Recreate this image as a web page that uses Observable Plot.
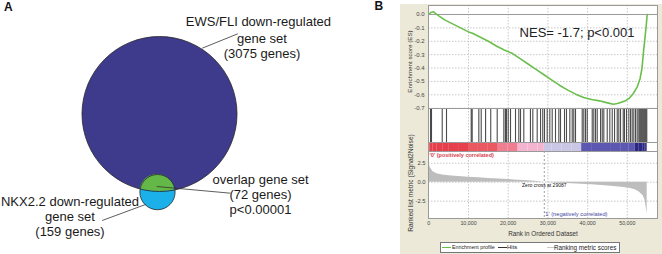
<!DOCTYPE html>
<html><head><meta charset="utf-8">
<script src="https://cdn.jsdelivr.net/npm/d3@7"></script>
<script src="https://cdn.jsdelivr.net/npm/@observablehq/plot@0.6"></script>
<style>
body{margin:0;background:#fff;}
#root{position:relative;width:662px;height:254px;overflow:hidden;font-family:"Liberation Sans",Arial,sans-serif;}
.abs{position:absolute;}
.leg span{position:absolute;white-space:nowrap;}
</style></head><body><div id="root"></div>
<script>
// ---------- data ----------
const setNames = ["EWS/FLI down-regulated", "NKX2.2 down-regulated", "overlap gene set"];
const setCounts = [3075, 159, 72];
const overlapP = "p<0.00001";
const nesLabel = "NES= -1.7; p<0.001";
const zeroCross = 29087;

const esRank = [0,500,1200,2500,4000,6000,8000,10000,11000,13000,15000,17000,19000,21000,23000,25000,27000,29000,31000,33000,35000,37000,39000,41000,43000,45000,46500,47500,48500,49500,50500,51500,52500,53200,53700,54100,54500,54800,55000];
const esValue = [0,0.015,0.02,-0.01,-0.04,-0.07,-0.10,-0.13,-0.14,-0.17,-0.20,-0.235,-0.265,-0.29,-0.33,-0.37,-0.41,-0.45,-0.49,-0.53,-0.565,-0.595,-0.62,-0.635,-0.645,-0.66,-0.67,-0.665,-0.655,-0.645,-0.625,-0.59,-0.54,-0.48,-0.40,-0.27,-0.16,-0.07,0.00];

const hitRanks = [430,680,3380,4460,10680,10930,12600,13200,14300,15600,17230,18900,19300,19560,20000,20580,21840,22670,23100,23930,25600,26200,27300,28140,28700,29140,29820,30480,31080,31910,32750,33170,34180,34680,35520,36120,36520,36950,38640,39040,39470,39900,41160,41560,41990,42420,43250,43680,44080,44940,45590,46200,46780,47460,47860,48290,48970,49290,49800,50380,50810,51230,51640,52070,52490,52900,53150,53400,53650,53900,54150,54400,54650,54900];

const metricRank = [0,300,1000,2000,3500,5000,7500,10000,12500,15000,17500,20000,22500,25000,27500,29087,31000,33500,36000,38500,41000,43500,46000,48500,50500,52000,53000,54000,54500,54800,55000];
const metricValue = [2.8,2.0,1.4,1.1,0.95,0.85,0.75,0.66,0.58,0.5,0.42,0.35,0.27,0.18,0.08,0,-0.06,-0.13,-0.2,-0.27,-0.34,-0.42,-0.52,-0.65,-0.8,-1.0,-1.3,-1.8,-2.4,-3.5,-4.2];

const rankTicks = [0,10000,20000,30000,40000,50000];
const esTicks = [0,-0.1,-0.2,-0.3,-0.4,-0.5,-0.6,-0.7];
const metricTicks = [2.5,0,-2.5];
const legendItems = ["Enrichment profile","Hits","Ranking metric scores"];

// ---------- helpers ----------
const FONT = '"Liberation Sans", Arial, sans-serif';
const root = document.getElementById("root");
function place(el, left, top, w, h){
  const d = document.createElement("div");
  d.className = "abs";
  Object.assign(d.style, {left:left+"px", top:top+"px"});
  if (w) d.style.width = w+"px";
  if (h) { d.style.height = h+"px"; d.style.overflow = "hidden"; }
  d.appendChild(el); root.appendChild(d); return d;
}
const baseStyle = {background:"transparent", overflow:"visible", fontFamily:FONT, fontSize:"6px", color:"#333"};

// ---------- Panel A ----------
const rMax = 77.5;
const rScale = d3.scaleSqrt().domain([0, setCounts[0]]).range([0, rMax]);
const R = rScale(setCounts[0]), r = rScale(setCounts[1]);
const big = {x:159, y:113.5};
const dir = [-2, 77.5], dl = Math.hypot(dir[0], dir[1]);
function lensArea(d){
  if (d >= R + r) return 0;
  if (d <= R - r) return Math.PI*r*r;
  const a1 = Math.acos((d*d + r*r - R*R)/(2*d*r));
  const a2 = Math.acos((d*d + R*R - r*r)/(2*d*R));
  return r*r*a1 + R*R*a2 - 0.5*Math.sqrt((-d+r+R)*(d+r-R)*(d-r+R)*(d+r+R));
}
const target = Math.PI*R*R*setCounts[2]/setCounts[0];
let lo = R - r, hi = R + r;
for (let i = 0; i < 60; i++){ const m = (lo+hi)/2; if (lensArea(m) > target) lo = m; else hi = m; }
const dist = (lo+hi)/2;
const small = {x: big.x + dir[0]/dl*dist, y: big.y + dir[1]/dl*dist};
const circles = [{x:big.x, y:big.y, n:setCounts[0]}, {x:small.x, y:small.y, n:setCounts[1]}];
const lensPts = [];
for (let x = small.x - r; x <= small.x + r; x += 0.2){
  const hs = Math.sqrt(Math.max(0, r*r - (x-small.x)**2));
  const hb = Math.sqrt(Math.max(0, R*R - (x-big.x)**2));
  const y1 = Math.max(small.y - hs, big.y - hb), y2 = Math.min(small.y + hs, big.y + hb);
  if (y2 > y1) lensPts.push({x, y1, y2});
}
const leaders = [
  {x1:201.7, y1:47.7, x2:237.3, y2:33.3},
  {x1:156.3, y1:186, x2:230, y2:192.7},
  {x1:145, y1:204, x2:101.7, y2:220}
];
const labelsA = [
  {t:`gene set\n(${setCounts[0]} genes)`, x:261.5, y:45},
  {t:`${setNames[2]}\n(${setCounts[2]} genes)\n${overlapP}`, x:260, y:193.3},
  {t:`${setNames[1]}\ngene set\n(${setCounts[1]} genes)`, x:69.5, y:215.8}
];
const plotA = Plot.plot({
  width:331, height:254, margin:0,
  style:{...baseStyle, fontSize:"13px"},
  x:{domain:[0,331], axis:null}, y:{domain:[254,0], axis:null},
  r:{type:"sqrt", domain:[0,setCounts[0]], range:[0,rMax]},
  marks:[
    Plot.dot([circles[0]], {x:"x", y:"y", r:"n", fill:"#3e3a8c"}),
    Plot.dot([circles[1]], {x:"x", y:"y", r:"n", fill:"#1cb0ea"}),
    Plot.areaY(lensPts, {x:"x", y1:"y1", y2:"y2", fill:"#64b847"}),
    Plot.dot(circles, {x:"x", y:"y", r:"n", fill:"none", stroke:"#262626", strokeWidth:0.8, sort:null}),
    Plot.link(leaders, {x1:"x1", y1:"y1", x2:"x2", y2:"y2", stroke:"#333", strokeWidth:0.8}),
    Plot.text([setNames[0]], {frameAnchor:"top-right", dx:-0.5, dy:21.8, fontSize:13, fill:"#1a1a1a", textAnchor:"end", lineAnchor:"middle"}),
    Plot.text(labelsA, {x:"x", y:"y", text:"t", fontSize:13, lineHeight:1.16, fill:"#1a1a1a", textAnchor:"middle", lineAnchor:"middle"}),
    Plot.text(["A"], {frameAnchor:"top-left", dx:3.5, dy:1.5, lineAnchor:"top", fontSize:12, fontWeight:"bold", fill:"#111", textAnchor:"start"})
  ]
});
place(plotA, 0, 0, 331, 254);

// ---------- Panel B ----------
const bg = document.createElement("div");
Object.assign(bg.style, {width:"262px", height:"250px", background:"#ece9d8"});
place(bg, 400, 4);
const bLab = document.createElement("div");
Object.assign(bLab.style, {font:`bold 12px ${FONT}`, color:"#111", lineHeight:"12px"});
bLab.textContent = "B";
place(bLab, 374.5, 0);

const xDomain = [-75, 57600];
const common = {width:262, marginLeft:28, marginRight:5, x:{domain:xDomain, axis:null}, style:baseStyle};
const gridStyle = {stroke:"#c8c8c8", strokeOpacity:1, strokeDasharray:"1.5,1.5"};
const frameStroke = "#9a9a9a";

// ES plot
const esData = esRank.map((k,i)=>({rank:k, es:esValue[i]}));
const plotES = Plot.plot({
  ...common, height:104, marginTop:1, marginBottom:0,
  y:{domain:[-0.7022, 0.0672], axis:null},
  marks:[
    Plot.frame({fill:"white", stroke:null}),
    Plot.gridY(esTicks, gridStyle),
    Plot.gridX(rankTicks.slice(1), gridStyle),
    Plot.ruleY([0], {stroke:"#9a9a9a"}),
    Plot.axisY(esTicks, {tickSize:0, tickPadding:4, tickFormat:d=>d.toFixed(1), fontSize:6, fill:"#444", label:null}),
    Plot.line(esData, {x:"rank", y:"es", stroke:"#6abf4b", strokeWidth:1.6}),
    Plot.text([nesLabel], {frameAnchor:"top-right", dx:-23, dy:27, lineAnchor:"middle", textAnchor:"end", fontSize:13, fill:"#222"}),
    Plot.text(["Enrichment score (ES)"], {frameAnchor:"left", rotate:-90, dx:-18, dy:4.5, fontSize:6.2, fill:"#333", textAnchor:"middle"}),
    Plot.frame({stroke:frameStroke})
  ]
});
place(plotES, 400, 4);

// Hits
const plotHits = Plot.plot({
  ...common, height:34, marginTop:0, marginBottom:0,
  marks:[
    Plot.frame({fill:"white", stroke:null}),
    Plot.gridX(rankTicks.slice(1), gridStyle),
    Plot.ruleX(hitRanks, {x:d=>d, stroke:"#000", strokeOpacity:0.7, strokeWidth:1.1}),
    Plot.frame({stroke:frameStroke})
  ]
});
place(plotHits, 400, 108);

// Colour bar (ranked list metric)
const bins = metricRank.slice(0,-1).map((k,i)=>({x1:k, x2:metricRank[i+1], v:(metricValue[i]+metricValue[i+1])/2}));
const plotBar = Plot.plot({
  ...common, height:9, marginTop:0, marginBottom:0,
  color:{type:"threshold", domain:[-1,-0.3,0,0.27,0.42,0.66], range:["#2a2880","#5c58b2","#c9c6e6","#f4b3cf","#ef7f90","#ea5862","#e5404c"]},
  marks:[
    Plot.frame({fill:"white", stroke:null}),
    Plot.barX(bins, {x1:"x1", x2:"x2", fill:"v", inset:0}),
    Plot.frame({stroke:frameStroke})
  ]
});
place(plotBar, 400, 142);

// Ranked list metric
const plotRank = Plot.plot({
  ...common, height:103, marginTop:0, marginBottom:36,
  y:{domain:[-4.78, 4.04], axis:null},
  marks:[
    Plot.frame({fill:"white", stroke:null}),
    Plot.gridY(metricTicks, gridStyle),
    Plot.gridX(rankTicks.slice(1), gridStyle),
    Plot.areaY(metricRank, {x:metricRank, y:metricValue, fill:"#bdbdbd", curve:"linear"}),
    Plot.ruleX([zeroCross], {stroke:"#a0a0a0", strokeDasharray:"2,2"}),
    Plot.axisY(metricTicks, {tickSize:0, tickPadding:3, tickFormat:d=>d.toFixed(1), fontSize:5.8, fill:"#444", label:null}),
    Plot.axisX(rankTicks, {tickSize:0, tickPadding:2.5, tickFormat:d3.format(","), fontSize:5.3, fill:"#444", label:null}),
    Plot.text(["Rank in Ordered Dataset"], {frameAnchor:"bottom", dy:15, lineAnchor:"middle", fontSize:6.3, fill:"#333"}),
    Plot.text(["Ranked list metric (Signal2Noise)"], {frameAnchor:"left", rotate:-90, dx:-18, dy:-2, fontSize:6.6, fill:"#333", textAnchor:"middle"}),
    Plot.text(["'0' (positively correlated)"], {frameAnchor:"top-left", dx:1, dy:1.5, lineAnchor:"top", textAnchor:"start", fontSize:5.5, fontWeight:"bold", fill:"#d8404c"}),
    Plot.text([zeroCross], {x:d=>d, y:()=>0, dy:3, text:d=>`Zero cross at ${d}`, textAnchor:"middle", lineAnchor:"middle", fontSize:5, fill:"#111"}),
    Plot.text([zeroCross], {x:d=>d, frameAnchor:"bottom", dy:-4.5, text:()=>"'1' (negatively correlated)", textAnchor:"start", lineAnchor:"middle", fontSize:5.7, fill:"#4646a0"}),
    Plot.frame({stroke:frameStroke})
  ]
});
place(plotRank, 400, 151);

// Legend
const leg = document.createElement("div");
leg.className = "leg";
Object.assign(leg.style, {position:"relative", width:"178px", height:"9px", background:"#fff", border:"1px solid #777", font:`6px ${FONT}`, color:"#222", lineHeight:"9px"});
const legColors = ["#6abf4b","#333","#c8c8c8"];
const legPos = [[1,11],[57,66],[105.5,113]];
const legSize = [5.3, 6, 6.3];
legendItems.forEach((t,i)=>{
  const ln = document.createElement("span");
  Object.assign(ln.style, {left:legPos[i][0]+"px", top:"4px", width:"9px", height:"1.2px", background:legColors[i]});
  const tx = document.createElement("span");
  Object.assign(tx.style, {left:legPos[i][1]+"px", top:"0px", fontSize:legSize[i]+"px"});
  tx.textContent = t;
  leg.appendChild(ln); leg.appendChild(tx);
});
place(leg, 440, 241.5);
</script></body></html>
